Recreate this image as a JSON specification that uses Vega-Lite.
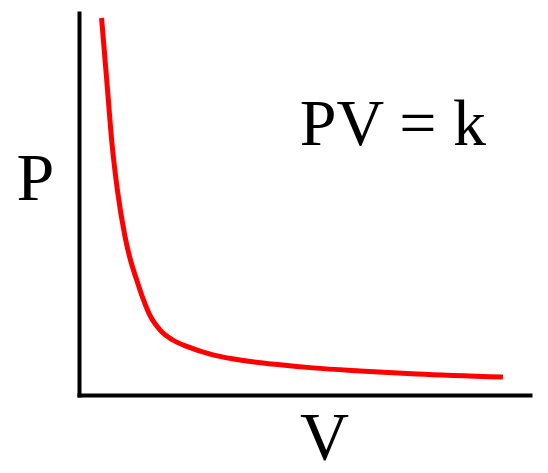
{
  "$schema": "https://vega.github.io/schema/vega-lite/v6.json",
  "width": 451,
  "height": 382,
  "autosize": {"type": "none"},
  "padding": {"left": 79, "top": 13, "right": 18, "bottom": 78},
  "background": "white",
  "config": {
    "view": {"stroke": null},
    "font": "Liberation Serif",
    "axis": {
      "domainColor": "black",
      "domainWidth": 4,
      "domainCap": "square",
      "ticks": false,
      "labels": false,
      "grid": false,
      "titleFont": "Liberation Serif",
      "titleFontSize": 68,
      "titleFontWeight": "normal",
      "titleColor": "black"
    }
  },
  "layer": [
    {
      "data": {
        "values": [
          {"V": 0.50, "P": 9.87},
          {"V": 0.61, "P": 8.32},
          {"V": 0.73, "P": 6.60},
          {"V": 0.86, "P": 5.29},
          {"V": 1.02, "P": 4.15},
          {"V": 1.13, "P": 3.58},
          {"V": 1.28, "P": 3.01},
          {"V": 1.42, "P": 2.52},
          {"V": 1.57, "P": 2.09},
          {"V": 1.80, "P": 1.70},
          {"V": 2.08, "P": 1.44},
          {"V": 2.42, "P": 1.26},
          {"V": 2.97, "P": 1.05},
          {"V": 3.72, "P": 0.89},
          {"V": 4.46, "P": 0.79},
          {"V": 5.19, "P": 0.71},
          {"V": 6.23, "P": 0.63},
          {"V": 7.49, "P": 0.55},
          {"V": 9.40, "P": 0.47}
        ]
      },
      "mark": {"type": "line", "color": "#ff0000", "strokeWidth": 5, "interpolate": "monotone", "strokeCap": "butt"},
      "encoding": {
        "x": {
          "field": "V", "type": "quantitative",
          "scale": {"domain": [0, 10], "nice": false},
          "axis": {"title": "V", "titleX": 245, "titleY": 63, "titleBaseline": "alphabetic", "titleAnchor": null}
        },
        "y": {
          "field": "P", "type": "quantitative",
          "scale": {"domain": [0, 10], "nice": false},
          "axis": {"title": "P", "titleAngle": 0, "titleX": -44, "titleY": 186, "titleAlign": "center", "titleBaseline": "alphabetic", "titleAnchor": null}
        }
      }
    },
    {
      "data": {"values": [{"V": 6.96, "P": 6.54, "label": "PV = k"}]},
      "mark": {"type": "text", "font": "Liberation Serif", "fontSize": 66, "align": "center", "baseline": "alphabetic", "color": "black"},
      "encoding": {
        "x": {"field": "V", "type": "quantitative"},
        "y": {"field": "P", "type": "quantitative"},
        "text": {"field": "label"}
      }
    }
  ]
}
